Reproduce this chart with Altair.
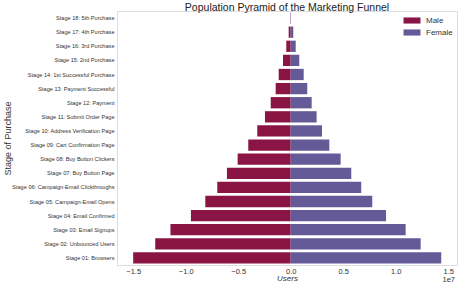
import altair as alt
import pandas as pd

stages = [
    "Stage 01: Browsers",
    "Stage 02: Unbounced Users",
    "Stage 03: Email Signups",
    "Stage 04: Email Confirmed",
    "Stage 05: Campaign-Email Opens",
    "Stage 06: Campaign-Email Clickthroughs",
    "Stage 07: Buy Button Page",
    "Stage 08: Buy Button Clickers",
    "Stage 09: Cart Confirmation Page",
    "Stage 10: Address Verification Page",
    "Stage 11: Submit Order Page",
    "Stage 12: Payment",
    "Stage 13: Payment Successful",
    "Stage 14: 1st Successful Purchase",
    "Stage 15: 2nd Purchase",
    "Stage 16: 3rd Purchase",
    "Stage 17: 4th Purchase",
    "Stage 18: 5th Purchase",
]
male_users = [-15.0e6, -12.9e6, -11.45e6, -9.5e6, -8.13e6, -6.99e6, -6.07e6, -5.05e6,
              -4.04e6, -3.18e6, -2.45e6, -1.9e6, -1.43e6, -1.14e6, -0.73e6, -0.42e6,
              -0.19e6, -0.02e6]
female_users = [14.34e6, 12.38e6, 10.95e6, 9.08e6, 7.77e6, 6.72e6, 5.77e6, 4.76e6,
                3.68e6, 2.98e6, 2.47e6, 2.0e6, 1.58e6, 1.24e6, 0.82e6, 0.48e6,
                0.25e6, 0.03e6]
genders = ["Male", "Female"]
x_ticks = [-1.5e7, -1.0e7, -0.5e7, 0.0, 0.5e7, 1.0e7, 1.5e7]

rows = []
for s, m in zip(stages, male_users):
    rows.append({"Stage": s, "Gender": "Male", "Users": m})
for s, f in zip(stages, female_users):
    rows.append({"Stage": s, "Gender": "Female", "Users": f})
df = pd.DataFrame(rows)

FONT = "Liberation Sans"

bars = alt.Chart(df).mark_bar(opacity=1).encode(
    x=alt.X("Users:Q", stack=None,
            scale=alt.Scale(domain=[-1.654e7, 1.584e7], nice=False, zero=False),
            axis=alt.Axis(values=x_ticks, labelExpr="format(datum.value/1e7, '.1f')",
                          title="Users", titleFontStyle="italic", titleFontWeight="normal",
                          titleFontSize=8, titleColor="#333333", titlePadding=0,
                          labelFontSize=7.5, labelColor="#333333", labelPadding=2,
                          ticks=False, domain=False, grid=False, labelFont=FONT,
                          titleFont=FONT)),
    y=alt.Y("Stage:N", sort=stages[::-1],
            scale=alt.Scale(paddingInner=0.2, paddingOuter=0.1),
            axis=alt.Axis(title="Stage of Purchase", titleFontSize=9, titleFontWeight="normal",
                          titleColor="#333333", titleX=-110, titleBaseline="middle",
                          labelFontSize=5.6,
                          labelColor="#333333", labelPadding=3, ticks=False, domain=False,
                          grid=False, labelFont=FONT, titleFont=FONT)),
    color=alt.Color("Gender:N", sort=genders,
                    scale=alt.Scale(domain=genders, range=["#8A1545", "#655A98"]),
                    legend=alt.Legend(title=None, orient="none", legendX=291, legendY=5.5,
                                      symbolType="M-2.5,-0.9H2.5V0.9H-2.5Z", symbolSize=46,
                                      symbolStrokeWidth=0, labelOffset=10, labelFontSize=8,
                                      labelFont=FONT, labelColor="#333333", rowPadding=4,
                                      padding=0)),
)

exp = alt.Chart(pd.DataFrame({"t": ["1e7"]})).mark_text(
    font=FONT, fontSize=7.5, color="#333333", align="right", baseline="alphabetic"
).encode(x=alt.value(338), y=alt.value(271), text="t:N")

chart = alt.layer(bars, exp).properties(
    width=340, height=254,
    title=alt.TitleParams("Population Pyramid of the Marketing Funnel", fontSize=10.5,
                          font=FONT, fontWeight="normal", color="#222222", anchor="middle",
                          offset=2, dy=4),
    padding={"left": 117, "top": 11, "right": 17, "bottom": 18},
    autosize=alt.AutoSizeParams(type="none"),
).configure_view(stroke="#8c8c8c", strokeWidth=1).configure(background="white")

chart.save("out.html", embed_options={"renderer": "svg", "actions": False})
